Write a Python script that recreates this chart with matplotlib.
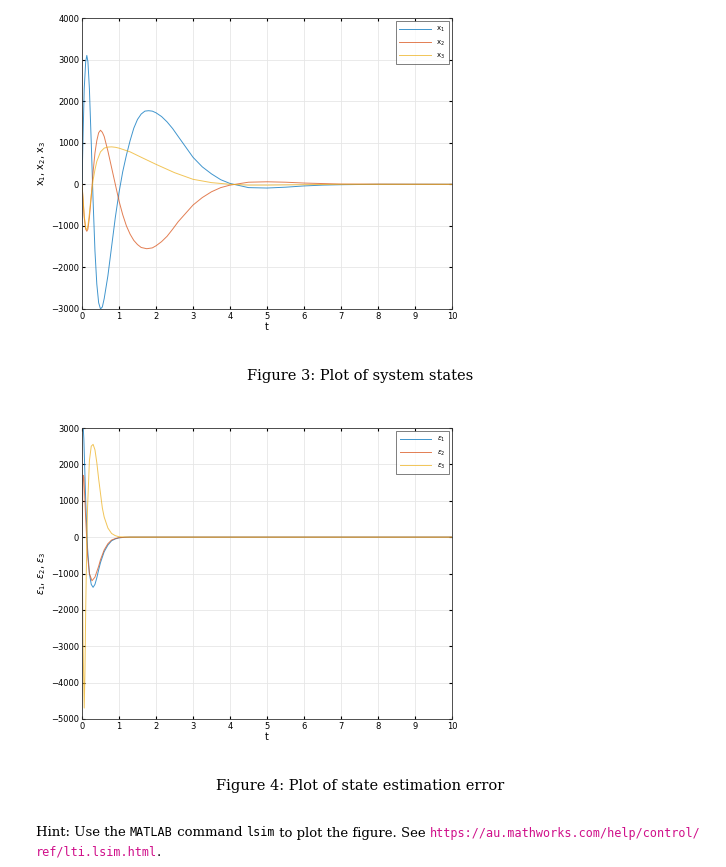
import matplotlib
matplotlib.use("Agg")
import matplotlib.pyplot as plt

t1 = [0, 0.03, 0.06, 0.1, 0.13, 0.16, 0.2, 0.25, 0.3, 0.35, 0.4, 0.45, 0.5, 0.55, 0.6, 0.7, 0.8, 0.9, 1.0, 1.1, 1.2, 1.3, 1.4, 1.5, 1.6, 1.7, 1.8, 1.9, 2.0, 2.15, 2.3, 2.45, 2.6, 2.8, 3.0, 3.25, 3.5, 3.75, 4.0, 4.5, 5, 5.5, 6, 6.5, 7, 8, 10]
x1 = [0, 1200, 2300, 2950, 3100, 2950, 2300, 1000, -400, -1600, -2400, -2850, -3000, -2950, -2750, -2200, -1500, -800, -200, 300, 700, 1050, 1350, 1560, 1690, 1760, 1770, 1760, 1720, 1630, 1500, 1340, 1150, 900, 650, 420, 250, 110, 20, -80, -90, -70, -40, -20, -10, 0, 0]
t2 = [0, 0.03, 0.06, 0.1, 0.13, 0.16, 0.2, 0.25, 0.3, 0.35, 0.4, 0.45, 0.5, 0.55, 0.6, 0.7, 0.8, 0.9, 1.0, 1.1, 1.2, 1.3, 1.4, 1.5, 1.6, 1.75, 1.9, 2.0, 2.15, 2.3, 2.45, 2.6, 2.8, 3.0, 3.25, 3.5, 3.75, 4.0, 4.5, 5, 5.5, 6, 7, 10]
x2 = [0, -400, -800, -1080, -1130, -1080, -800, -300, 300, 750, 1050, 1240, 1300, 1250, 1150, 800, 400, 0, -400, -730, -1000, -1200, -1350, -1450, -1520, -1550, -1530, -1480, -1380, -1250, -1080, -900, -700, -500, -320, -180, -80, -20, 50, 60, 50, 30, 5, 0]
t3 = [0, 0.03, 0.06, 0.1, 0.13, 0.16, 0.2, 0.25, 0.3, 0.35, 0.4, 0.5, 0.6, 0.7, 0.8, 0.9, 1.0, 1.3, 1.6, 2.0, 2.5, 3.0, 3.5, 4.0, 4.5, 5, 6, 7, 10]
x3 = [0, -350, -750, -1050, -1100, -1000, -700, -250, 100, 350, 550, 780, 870, 895, 900, 890, 870, 780, 650, 480, 280, 120, 40, 0, -20, -20, -10, 0, 0]

te1 = [0, 0.05, 0.1, 0.15, 0.2, 0.25, 0.3, 0.35, 0.4, 0.45, 0.5, 0.6, 0.7, 0.8, 0.9, 1.0, 1.15, 1.3, 10]
e1 = [3600, 2700, 1000, -300, -1000, -1300, -1380, -1300, -1120, -900, -700, -400, -220, -100, -50, -20, -5, 0, 0]
te2 = [0, 0.03, 0.05, 0.1, 0.15, 0.2, 0.27, 0.35, 0.4, 0.45, 0.5, 0.6, 0.7, 0.8, 0.9, 1.0, 1.15, 1.3, 10]
e2 = [0, 1700, 1650, 500, -500, -1000, -1200, -1100, -950, -800, -620, -350, -180, -80, -40, -15, -4, 0, 0]
te3 = [0, 0.03, 0.06, 0.08, 0.1, 0.13, 0.15, 0.2, 0.25, 0.3, 0.35, 0.4, 0.45, 0.5, 0.55, 0.6, 0.7, 0.8, 0.9, 1.0, 1.15, 1.3, 10]
e3 = [0, -3000, -4700, -3700, -2000, -100, 800, 2100, 2500, 2550, 2400, 2050, 1600, 1200, 800, 550, 250, 100, 40, 10, 3, 0, 0]

cols = ["#0072BD", "#D95319", "#EDB120"]
W, H = 726, 867
fig = plt.figure(figsize=(W/100, H/100), dpi=100)

def mkax(top, bottom, series, ylim, yticks, ylabel, labels):
    ax = fig.add_axes([82/W, 1-bottom/H, (452-82)/W, (bottom-top)/H])
    for (tt, yy), c, lab in zip(series, cols, labels):
        ax.plot(tt, yy, color=c, lw=0.7, alpha=0.75, label=lab)
    ax.set_xlim(0, 10); ax.set_ylim(*ylim)
    ax.set_xticks(range(11)); ax.set_yticks(yticks)
    ax.grid(True, color="#e6e6e6", lw=0.6)
    ax.tick_params(labelsize=6, length=2.5, direction="in", top=True, right=True, labeltop=False, labelright=False, pad=2)
    for s in ax.spines.values():
        s.set_linewidth(0.6); s.set_color("#333333")
    ax.set_xlabel("t", fontsize=7, labelpad=1)
    ax.set_ylabel(ylabel, fontsize=7, labelpad=2)
    lg = ax.legend(loc="upper right", fontsize=5, frameon=True, fancybox=False, handlelength=4.5, borderpad=0.5, labelspacing=0.6)
    lg.get_frame().set_edgecolor("#444444"); lg.get_frame().set_linewidth(0.6)
    return ax

mkax(18, 309, [(t1, x1), (t2, x2), (t3, x3)], (-3000, 4000), range(-3000, 4001, 1000),
     r"x$_1$, x$_2$, x$_3$", [r"x$_1$", r"x$_2$", r"x$_3$"])
mkax(428, 719, [(te1, e1), (te2, e2), (te3, e3)], (-5000, 3000), range(-5000, 3001, 1000),
     r"$\epsilon_1$, $\epsilon_2$, $\epsilon_3$", [r"$\epsilon_1$", r"$\epsilon_2$", r"$\epsilon_3$"])

serif = "DejaVu Serif"
fig.text(360/W, 1-376/H, "Figure 3: Plot of system states", ha="center", va="center", fontsize=10.5, family=serif)
fig.text(360/W, 1-786/H, "Figure 4: Plot of state estimation error", ha="center", va="center", fontsize=10.5, family=serif)

fig.canvas.draw()
r = fig.canvas.get_renderer()
def runs(x, y, parts):
    for s, fam, col in parts:
        tx = fig.text(x/W, 1-y/H, s, fontsize=9.5 if fam == serif else 8.5, family=fam, color=col, va="center")
        x += tx.get_window_extent(r).width
mono = "DejaVu Sans Mono"
mag = "#d0108a"
runs(36, 833, [("Hint: Use the ", serif, "k"), ("MATLAB", mono, "k"), (" command ", serif, "k"),
               ("lsim", mono, "k"), (" to plot the figure. See ", serif, "k"),
               ("https://au.mathworks.com/help/control/", mono, mag)])
runs(36, 852, [("ref/lti.lsim.html", mono, mag), (".", serif, "k")])

fig.savefig("out.png", dpi=100)
